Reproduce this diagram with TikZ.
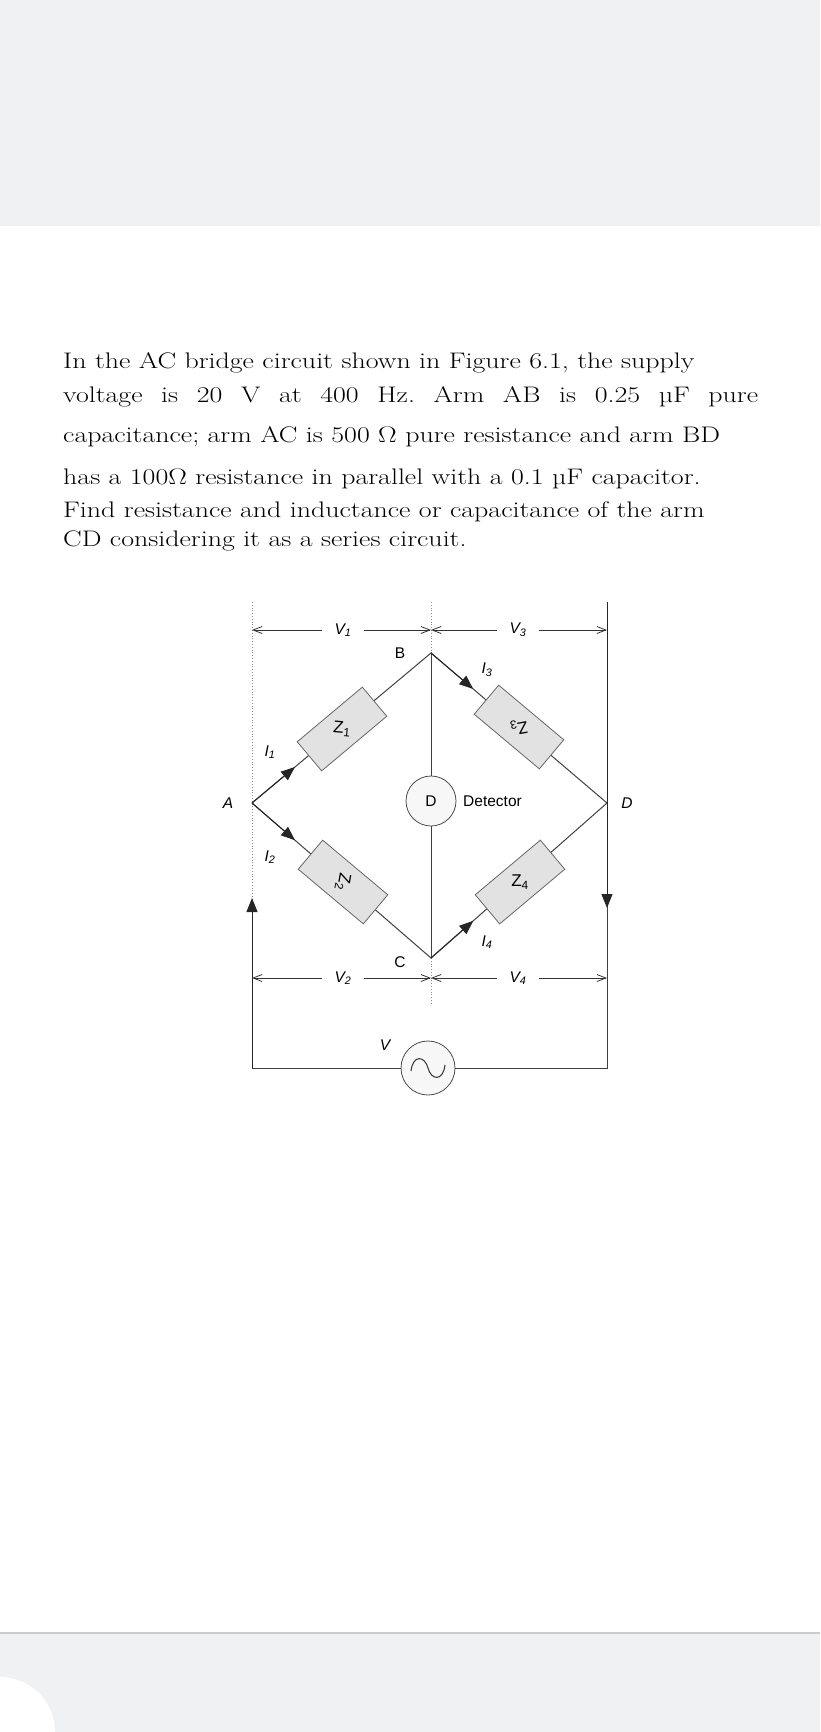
\documentclass[tikz,border=0pt]{standalone}
\usepackage{fontspec}
\setmainfont{Latin Modern Roman}[FakeStretch=1.24]
\newfontfamily\lsans{Liberation Sans}
\usetikzlibrary{arrows.meta,calc}
\definecolor{bggray}{HTML}{F0F1F3}
\definecolor{boxgray}{HTML}{E2E2E2}
\begin{document}
\begin{tikzpicture}[x=1pt,y=-1pt,
  txt/.style={anchor=base west,inner sep=0,font=\fontsize{22.5}{26}\selectfont},
  lab/.style={font=\lsans\fontsize{15.5}{17}\selectfont,inner sep=1},
  wire/.style={line width=1pt,black!75},
  dotw/.style={line width=0.8pt,black!45,dotted},
  zbox/.style={draw=black!60,fill=boxgray,line width=0.8pt,minimum width=85,minimum height=38,inner sep=0,font=\lsans\fontsize{17}{19}\selectfont},
  curr/.style={-{Triangle[length=14pt,width=11pt]},line width=1pt,black!85},
  barb/.style={line width=0.8pt,black!80},
  tip/.tip={Straight Barb[length=9pt,width=7pt]}]
\useasboundingbox (0,0) rectangle (820,1732);
\fill[bggray] (0,0) rectangle (820,226);
\fill[bggray] (0,1633) rectangle (820,1732);
\draw[black!20,line width=2pt] (0,1633) -- (820,1633);
\fill[white] (0,1732) circle (55);
% text
\node[txt] (t1) at (63,368) {In the AC bridge circuit shown in Figure 6.1, the supply};
\node[txt] (t2) at (63,402) {\hbox to 695pt{voltage\hfill is\hfill 20\hfill V\hfill at\hfill 400\hfill Hz.\hfill Arm\hfill AB\hfill is\hfill 0.25\hfill µF\hfill pure}};
\node[txt] (t3) at (63,442) {capacitance; arm AC is 500 Ω pure resistance and arm BD};
\node[txt] (t4) at (63,484) {has a 100Ω resistance in parallel with a 0.1 µF capacitor.};
\node[txt] (t5) at (63,517) {Find resistance and inductance or capacitance of the arm};
\node[txt] (t6) at (63,546) {CD considering it as a series circuit.};
% circuit nodes
\coordinate (A) at (252,803);
\coordinate (B) at (431,653);
\coordinate (C) at (431,958);
\coordinate (D) at (607,803);
\coordinate (LT) at (252,602);
\coordinate (LM) at (252,990);
\coordinate (LB) at (252,1068);
\coordinate (MT) at (431,602);
\coordinate (MB) at (431,1003);
\coordinate (RT) at (607,602);
\coordinate (RB) at (607,1068);
\draw[dotw] (LT) -- (LM);
\draw[dotw] (MT) -- (B);
\draw[dotw] (C) -- (MB);
\node[draw=black!70,fill=black!3,circle,minimum size=54,inner sep=0,line width=0.8pt] (S) at (428,1068) {};
\draw[black!75,line width=1.1pt,shift={(428,1068)}] (-17,3) .. controls (-15,-14) and (-3,-12) .. (0,0) .. controls (3,12) and (15,14) .. (17,-3);
\node[lab] (Vl) at (385,1045) {\itshape V};
\node[draw=black!70,fill=black!3,circle,minimum size=50,inner sep=0,line width=0.8pt,font=\lsans\fontsize{15.5}{17}\selectfont] (Det) at (431,801) {D};
\node[lab,anchor=west] (Dl) at (462,801) {Detector};
\draw[wire] (LM) -- (LB) -- (S.west);
\draw[wire] (S.east) -- (RB) -- (RT);
\draw[wire] (B) -- (Det.north);
\draw[wire] (Det.south) -- (C);
\draw[wire] (A) -- (B) -- (D) -- (C) -- (A);
% boxes
\node[zbox,rotate=40] (Z1) at (342,729) {\rotatebox{-45}{Z\textsubscript{1}}};
\node[zbox,rotate=-40] (Z3) at (519,727) {\rotatebox{-130}{Z\textsubscript{3}}};
\node[zbox,rotate=-40] (Z2) at (343,882) {\rotatebox{-60}{Z\textsubscript{2}}};
\node[zbox,rotate=40] (Z4) at (520,882) {\rotatebox{-40}{Z\textsubscript{4}}};
% current arrows
\draw[curr] (A) -- ($(A)!0.24!(B)$);
\draw[curr] (A) -- ($(A)!0.24!(C)$);
\draw[curr] (B) -- ($(B)!0.24!(D)$);
\draw[curr] (C) -- ($(C)!0.24!(D)$);
\draw[curr] (LB) -- (252,898);
\draw[curr] (RT) -- (607,908);
\node[lab] (I1) at (270,752) {\itshape I\textsubscript{1}};
\node[lab] (I2) at (270,857) {\itshape I\textsubscript{2}};
\node[lab] (I3) at (487,670) {\itshape I\textsubscript{3}};
\node[lab] (I4) at (487,942) {\itshape I\textsubscript{4}};
\node[lab] (Al) at (228,803) {\itshape A};
\node[lab] (Dr) at (627,803) {\itshape D};
\node[lab] (Bl) at (400,653) {B};
\node[lab] (Cl) at (400,962) {C};
% dimensions
\node[lab,inner xsep=12] (V1) at (343,630) {\itshape V\textsubscript{1}};
\node[lab,inner xsep=12] (V3) at (518,630) {\itshape V\textsubscript{3}};
\node[lab,inner xsep=12] (V2) at (343,978) {\itshape V\textsubscript{2}};
\node[lab,inner xsep=12] (V4) at (518,978) {\itshape V\textsubscript{4}};
\draw[barb,tip-] (252,630) -- (V1.west);
\draw[barb,-tip] (V1.east) -- (431,630);
\draw[barb,tip-] (431,630) -- (V3.west);
\draw[barb,-tip] (V3.east) -- (607,630);
\draw[barb,tip-] (252,978) -- (V2.west);
\draw[barb,-tip] (V2.east) -- (431,978);
\draw[barb,tip-] (431,978) -- (V4.west);
\draw[barb,-tip] (V4.east) -- (607,978);
\end{tikzpicture}
\end{document}
